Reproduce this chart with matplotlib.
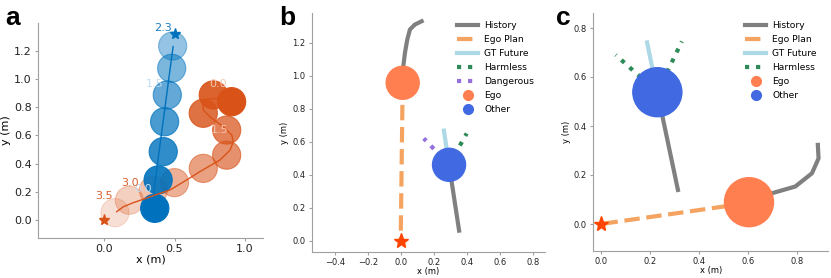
import matplotlib
matplotlib.use("Agg")
import matplotlib.pyplot as plt
from matplotlib.patches import Circle
from matplotlib.lines import Line2D
import numpy as np

# ---------------- Panel a data ----------------
a_blue_x = [0.36, 0.384, 0.42, 0.43, 0.449, 0.48, 0.487]
a_blue_y = [0.083, 0.284, 0.485, 0.697, 0.887, 1.076, 1.234]
a_blue_line_x = [0.35, 0.49]
a_blue_line_y = [0.18, 1.23]
a_blue_star = (0.5, 1.32)

a_orange_x = [0.905, 0.775, 0.704, 0.87, 0.87, 0.704, 0.50, 0.35, 0.18, 0.078]
a_orange_y = [0.839, 0.887, 0.757, 0.638, 0.46, 0.366, 0.265, 0.21, 0.14, 0.052]
a_orange_line_x = [0.889, 0.87, 0.80, 0.728, 0.70, 0.704, 0.764, 0.846, 0.906, 0.917,
                   0.894, 0.823, 0.68, 0.586, 0.468, 0.362, 0.279, 0.208, 0.137, 0.09]
a_orange_line_y = [0.846, 0.856, 0.863, 0.856, 0.827, 0.78, 0.721, 0.662, 0.603, 0.555,
                   0.496, 0.426, 0.343, 0.284, 0.213, 0.177, 0.147, 0.123, 0.094, 0.059]
a_orange_star = (0.0, 0.0)

a_labels = ["2.3", "1.5", "0.0", "0.0", "1.5", "3.0", "3.5"]
a_label_x = [0.419, 0.36, 0.278, 0.807, 0.819, 0.184, 0.0]
a_label_y = [1.36, 0.965, 0.217, 0.965, 0.638, 0.26, 0.17]
a_label_colors = ["#1a7cc4", "#c4dcf0", "#c4dcf0", "#f6c7b2", "#f6c7b2", "#d9602c", "#d9602c"]

# ---------------- Panel b data ----------------
b_ego_center = (0.012, 0.957)
b_ego_hist_x = [0.012, 0.016, 0.026, 0.04, 0.056, 0.086, 0.127]
b_ego_hist_y = [0.957, 1.059, 1.14, 1.22, 1.28, 1.31, 1.33]
b_plan_x = [0.012, 0.0]
b_plan_y = [0.957, 0.0]
b_other_center = (0.293, 0.46)
b_other_hist_x = [0.293, 0.354]
b_other_hist_y = [0.46, 0.061]
b_gt_x = [0.293, 0.262]
b_gt_y = [0.46, 0.667]
b_harmless_x = [0.293, 0.40]
b_harmless_y = [0.46, 0.65]
b_danger_x = [0.293, 0.14]
b_danger_y = [0.46, 0.62]

# ---------------- Panel c data ----------------
c_ego_center = (0.604, 0.089)
c_ego_hist_x = [0.604, 0.696, 0.793, 0.861, 0.888, 0.885]
c_ego_hist_y = [0.089, 0.125, 0.153, 0.207, 0.268, 0.323]
c_plan_x = [0.604, 0.0]
c_plan_y = [0.086, 0.0]
c_other_center = (0.23, 0.538)
c_other_hist_x = [0.23, 0.314]
c_other_hist_y = [0.538, 0.139]
c_gt_x = [0.23, 0.188]
c_gt_y = [0.538, 0.741]
c_harm1_x = [0.23, 0.06]
c_harm1_y = [0.538, 0.69]
c_harm2_x = [0.23, 0.33]
c_harm2_y = [0.538, 0.745]

radius = 0.1

C_HIST = "gray"
C_PLAN = "sandybrown"
C_GT = "lightblue"
C_HARM = "seagreen"
C_DANG = "mediumpurple"
C_EGO = "coral"
C_OTHER = "royalblue"
C_STAR = "orangered"
SPINE = "#a0a0a0"

fig = plt.figure(figsize=(8.31, 2.78), dpi=100)
W, H = 831, 278


def add_ax(l, r, t, b):
    return fig.add_axes([l / W, 1 - b / H, (r - l) / W, (b - t) / H])


def style(ax, fs):
    for s in ["top", "right"]:
        ax.spines[s].set_visible(False)
    for s in ["left", "bottom"]:
        ax.spines[s].set_color(SPINE)
    ax.tick_params(colors=SPINE, labelcolor="#222222", length=2.5, width=0.8,
                   labelsize=fs, pad=2)


# ---------------- Panel a ----------------
axa = add_ax(38, 263, 23, 238)
s = 141.0
axa.set_xlim(-66 / s, 159 / s)
axa.set_ylim(-18 / s, 197 / s)
style(axa, 8)
BLUE = "#0072BD"
ORANGE = "#D95319"
o_alphas = np.linspace(1.0, 0.18, len(a_orange_x))
for x, y, al in zip(a_orange_x, a_orange_y, o_alphas):
    axa.add_patch(Circle((x, y), radius, facecolor=ORANGE, edgecolor=ORANGE,
                         alpha=al, lw=0.8, zorder=2))
b_alphas = np.linspace(1.0, 0.42, len(a_blue_x))
for x, y, al in zip(a_blue_x, a_blue_y, b_alphas):
    axa.add_patch(Circle((x, y), radius, facecolor=BLUE, edgecolor=BLUE,
                         alpha=al, lw=0.8, zorder=3))
axa.plot(a_blue_line_x, a_blue_line_y, color=BLUE, lw=1, zorder=4)
axa.plot(a_orange_line_x, a_orange_line_y, color=ORANGE, lw=1, zorder=4)
axa.plot(*a_blue_star, marker="*", color=BLUE, ms=8, zorder=5, ls="none")
axa.plot(*a_orange_star, marker="*", color=ORANGE, ms=8, zorder=5, ls="none")
for t, x, y, c in zip(a_labels, a_label_x, a_label_y, a_label_colors):
    axa.text(x, y, t, color=c, fontsize=8, ha="center", va="center", zorder=6)
axa.set_xticks([0.0, 0.5, 1.0])
axa.set_yticks(np.arange(0, 1.21, 0.2))
axa.set_xlabel("x (m)", fontsize=8, labelpad=0)
axa.set_ylabel("y (m)", fontsize=8, labelpad=2)

# ---------------- Panel b ----------------
axb = add_ax(311.7, 545, 13.3, 252)
s = 165.0
axb.set_xlim((311.7 - 400.7) / s, (545 - 400.7) / s)
axb.set_ylim(-(252 - 240.7) / s, (240.7 - 13.3) / s)
style(axb, 6)
LW = 3
axb.plot(b_ego_hist_x, b_ego_hist_y, color=C_HIST, lw=LW, zorder=2)
axb.plot(b_plan_x, b_plan_y, color=C_PLAN, lw=LW, ls="--", zorder=2)
axb.plot(b_other_hist_x, b_other_hist_y, color=C_HIST, lw=LW, zorder=2)
axb.plot(b_gt_x, b_gt_y, color=C_GT, lw=LW, zorder=2)
axb.plot(b_harmless_x, b_harmless_y, color=C_HARM, lw=LW, ls=":", zorder=2)
axb.plot(b_danger_x, b_danger_y, color=C_DANG, lw=LW, ls=":", zorder=2)
axb.add_patch(Circle(b_ego_center, radius, color=C_EGO, zorder=3))
axb.add_patch(Circle(b_other_center, radius, color=C_OTHER, zorder=3))
axb.plot(b_plan_x[-1], b_plan_y[-1], marker="*", color=C_STAR, ms=11, zorder=4)
axb.set_xticks(np.arange(-0.4, 0.81, 0.2))
axb.set_yticks(np.arange(0, 1.21, 0.2))
axb.set_xlabel("x (m)", fontsize=6, labelpad=0)
axb.set_ylabel("y (m)", fontsize=6, labelpad=2)

# ---------------- Panel c ----------------
axc = add_ax(593.3, 828, 12.7, 250.7)
s = 245.0
axc.set_xlim((593.3 - 601) / s, (828 - 601) / s)
axc.set_ylim(-(250.7 - 224) / s, (224 - 12.7) / s)
style(axc, 6)
axc.plot(c_ego_hist_x, c_ego_hist_y, color=C_HIST, lw=LW, zorder=2)
axc.plot(c_plan_x, c_plan_y, color=C_PLAN, lw=LW, ls="--", zorder=2)
axc.plot(c_other_hist_x, c_other_hist_y, color=C_HIST, lw=LW, zorder=2)
axc.plot(c_gt_x, c_gt_y, color=C_GT, lw=LW, zorder=2)
axc.plot(c_harm1_x, c_harm1_y, color=C_HARM, lw=LW, ls=":", zorder=2)
axc.plot(c_harm2_x, c_harm2_y, color=C_HARM, lw=LW, ls=":", zorder=2)
axc.add_patch(Circle(c_ego_center, radius, color=C_EGO, zorder=3))
axc.add_patch(Circle(c_other_center, radius, color=C_OTHER, zorder=3))
axc.plot(c_plan_x[-1], c_plan_y[-1], marker="*", color=C_STAR, ms=11, zorder=4)
axc.set_xticks(np.arange(0, 0.81, 0.2))
axc.set_yticks(np.arange(0, 0.81, 0.2))
axc.set_xlabel("x (m)", fontsize=6, labelpad=0)
axc.set_ylabel("y (m)", fontsize=6, labelpad=2)


def legend_handles(with_danger):
    hs = [Line2D([], [], color=C_HIST, lw=LW, label="History"),
          Line2D([], [], color=C_PLAN, lw=LW, ls="--", label="Ego Plan"),
          Line2D([], [], color=C_GT, lw=LW, label="GT Future"),
          Line2D([], [], color=C_HARM, lw=LW, ls=":", label="Harmless")]
    if with_danger:
        hs.append(Line2D([], [], color=C_DANG, lw=LW, ls=":", label="Dangerous"))
    hs += [Line2D([], [], color=C_EGO, marker="o", ls="none", ms=7, label="Ego"),
           Line2D([], [], color=C_OTHER, marker="o", ls="none", ms=7, label="Other")]
    return hs


leg_kw = dict(frameon=False, fontsize=6.6, handlelength=2.3, handletextpad=0.7,
              labelspacing=0.55, borderpad=0, borderaxespad=0, loc="upper left")
axb.legend(handles=legend_handles(True), bbox_to_anchor=(457 / W, 1 - 21 / H),
           bbox_transform=fig.transFigure, **leg_kw)
axc.legend(handles=legend_handles(False), bbox_to_anchor=(745 / W, 1 - 21 / H),
           bbox_transform=fig.transFigure, **leg_kw)

for lab, x, y in [("a", 5, 25), ("b", 279, 25), ("c", 556, 25)]:
    fig.text(x / W, 1 - y / H, lab, fontsize=19, fontweight="bold",
             family="Liberation Sans", ha="left", va="baseline")

fig.savefig("out.png", dpi=100)
